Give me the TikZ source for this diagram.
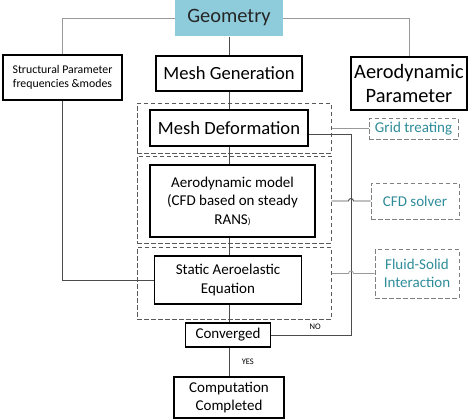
\documentclass[tikz,border=0pt]{standalone}
\usepackage{fontspec}
\setmainfont{Carlito}
\usetikzlibrary{positioning}
\definecolor{geoblue}{HTML}{8ECCDC}
\definecolor{tealtxt}{HTML}{2E8C99}

\begin{document}
\begin{tikzpicture}[
  x=1pt, y=-1pt,
  font=\fontsize{15}{18.5}\selectfont,
  box/.style={draw, line width=1.3pt, align=center, inner sep=2pt},
  frame/.style={draw=black!65, line width=1pt, dash pattern=on 4.5pt off 2.5pt},
  tag/.style={draw=black!50, line width=1pt, dash pattern=on 4.5pt off 2.5pt, text=tealtxt, align=center, inner sep=2pt},
  link/.style={draw=black!70, line width=0.9pt},
  light/.style={draw=black!40, line width=0.8pt}
]
\useasboundingbox (0,0) rectangle (474,420);

% --- Solver frames ---
\node[frame, minimum width=194pt, minimum height=50pt] (fr1) at (234,128) {};
\node[frame, minimum width=194pt, minimum height=87pt] (fr2) at (234,199.5) {};
\node[frame, minimum width=194pt, minimum height=72pt] (fr3) at (234,283) {};

% --- Main chain ---
\node[fill=geoblue, minimum width=108pt, minimum height=37pt, font=\fontsize{20.4}{24}\selectfont, text=black!85] (geom) at (229,18) {Geometry};
\node[box, minimum width=119pt, minimum height=45pt, font=\fontsize{11.8}{13.5}\selectfont] (struct) at (62.5,77.5) {Structural Parameter\\frequencies \&modes};
\node[box, minimum width=146pt, minimum height=35pt, font=\fontsize{18.6}{22}\selectfont] (meshgen) at (229,73.5) {Mesh Generation};
\node[box, minimum width=116pt, minimum height=53pt, font=\fontsize{20.4}{24}\selectfont] (aeropar) at (409,83.5) {Aerodynamic\\Parameter};
\node[box, minimum width=158pt, minimum height=36pt, font=\fontsize{18.6}{22}\selectfont] (meshdef) at (229,128) {Mesh Deformation};
\node[box, minimum width=165pt, minimum height=72pt] (aeromod) at (232.5,201) {Aerodynamic model\\(CFD based on steady\\RANS{\fontsize{9}{9}\selectfont)}};
\node[box, minimum width=147pt, minimum height=48pt] (static) at (228,280) {Static Aeroelastic\\Equation};
\node[box, minimum width=85pt, minimum height=24pt] (conv) at (228,335) {Converged};
\node[box, minimum width=110pt, minimum height=41pt] (comp) at (229,397.5) {Computation\\Completed};

% --- Side tags ---
\node[tag, minimum width=89pt, minimum height=21pt] (grid) at (413.5,128.5) {Grid treating};
\node[tag, minimum width=88pt, minimum height=36pt] (cfd) at (415,201) {CFD solver};
\node[tag, minimum width=84pt, minimum height=49pt] (fsi) at (417,273.5) {Fluid-Solid\\Interaction};

\coordinate (loopx) at (351,0);
\coordinate (md) at ([yshift=-6pt]meshdef.east);

\draw[light] (geom.west) -| (struct.north);
\draw[light] (geom.east) -| (aeropar.north);
\draw[link] (geom) -- (meshgen);
\draw[link] (meshgen) -- (meshdef);
\draw[link] (meshdef.south) -- (meshdef.south |- aeromod.north);
\draw[link] (meshdef.south |- aeromod.south) -- (meshdef.south |- static.north);
\draw[link] (meshdef.south |- static.south) -- (meshdef.south |- conv.north);
\draw[link] (meshdef.south |- conv.south) -- node[right=9pt, font=\fontsize{8.5}{10}\selectfont] {YES} (meshdef.south |- comp.north);
\draw[link] (struct.south) |- (static.west);

% --- Feedback loop ---
\draw[link] (conv.east) -- node[above=2pt, pos=0.55, font=\fontsize{8.5}{10}\selectfont] {NO} (conv.east -| loopx) -- (loopx |- md) -- (md);

\draw[light] (grid.west) -- (grid.west -| fr1.east);
\draw[link] (cfd.west) -- ([xshift=2.5pt]loopx |- cfd.west) arc[start angle=0, end angle=180, radius=2.5pt] -- (cfd.west -| fr2.east);
\draw[light] (fsi.west) -- ([xshift=2.5pt]loopx |- fsi.west) arc[start angle=0, end angle=180, radius=2.5pt] -- (fsi.west -| fr3.east);

\end{tikzpicture}
\end{document}
